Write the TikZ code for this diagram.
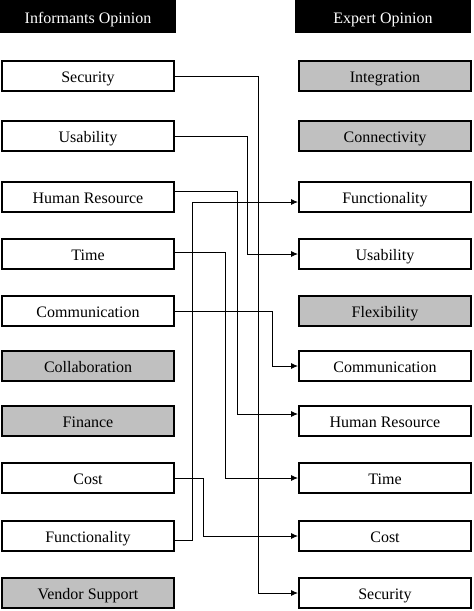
\documentclass[tikz,border=0pt]{standalone}
\usepackage{fontspec}
\setmainfont{Liberation Serif}
\usetikzlibrary{arrows.meta}
\definecolor{boxgray}{RGB}{192,192,192}
\tikzset{
  box/.style={draw=black, line width=2pt, minimum width=172pt, minimum height=30pt, inner sep=0pt,
    text height=13.5pt, text depth=0pt, font=\fontsize{16}{18}\selectfont},
  shaded/.style={box, fill=boxgray},
  header/.style={fill=black, text=white, minimum width=176pt, minimum height=33pt, inner sep=0pt,
    text height=14pt, text depth=0pt, font=\fontsize{16}{18}\selectfont},
  conn/.style={line width=0.9pt, -{Latex[length=7pt,width=6pt]}}
}
\begin{document}
\begin{tikzpicture}[x=1pt,y=-1pt]
\useasboundingbox (0,0) rectangle (474,611);
% headers
\node[header] (hl) at (88,16.5) {Informants Opinion};
\node[header] (hr) at (383,16.5) {Expert Opinion};
% left column
\node[box]    (lsec) at (88,76)  {Security};
\node[box]    (lusa) at (88,136) {Usability};
\node[box]    (lhr)  at (88,197) {Human Resource};
\node[box]    (ltime) at (88,254) {Time};
\node[box]    (lcom) at (88,311) {Communication};
\node[shaded] (lcol) at (88,366) {Collaboration};
\node[shaded] (lfin) at (88,421) {Finance};
\node[box]    (lcost) at (88,478) {Cost};
\node[box]    (lfun) at (88,536) {Functionality};
\node[shaded] (lven) at (88,593) {Vendor Support};
% right column
\node[shaded] (rint) at (385,76)  {Integration};
\node[shaded] (rcon) at (385,136) {Connectivity};
\node[box]    (rfun) at (385,197) {Functionality};
\node[box]    (rusa) at (385,254) {Usability};
\node[shaded] (rflx) at (385,311) {Flexibility};
\node[box]    (rcom) at (385,366) {Communication};
\node[box]    (rhr)  at (385,421) {Human Resource};
\node[box]    (rtime) at (385,478) {Time};
\node[box]    (rcost) at (385,536) {Cost};
\node[box]    (rsec) at (385,593) {Security};
% connectors
\draw[conn] (lsec.east) -- ++(83,0) |- (rsec.west);
\draw[conn] (lusa.east) -- ++(72,0) |- (rusa.west);
\draw[conn] ([yshift=6pt]lhr.east) -- ++(62,0) |- ([yshift=7pt]rhr.west);
\draw[conn] ([yshift=2pt]ltime.east) -- ++(50,0) |- (rtime.west);
\draw[conn] (lcom.east) -- ++(97,0) |- (rcom.west);
\draw[conn] (lcost.east) -- ++(28,0) |- (rcost.west);
\draw[conn] ([yshift=-4pt]lfun.east) -- ++(17,0) |- ([yshift=-5pt]rfun.west);
\end{tikzpicture}
\end{document}
